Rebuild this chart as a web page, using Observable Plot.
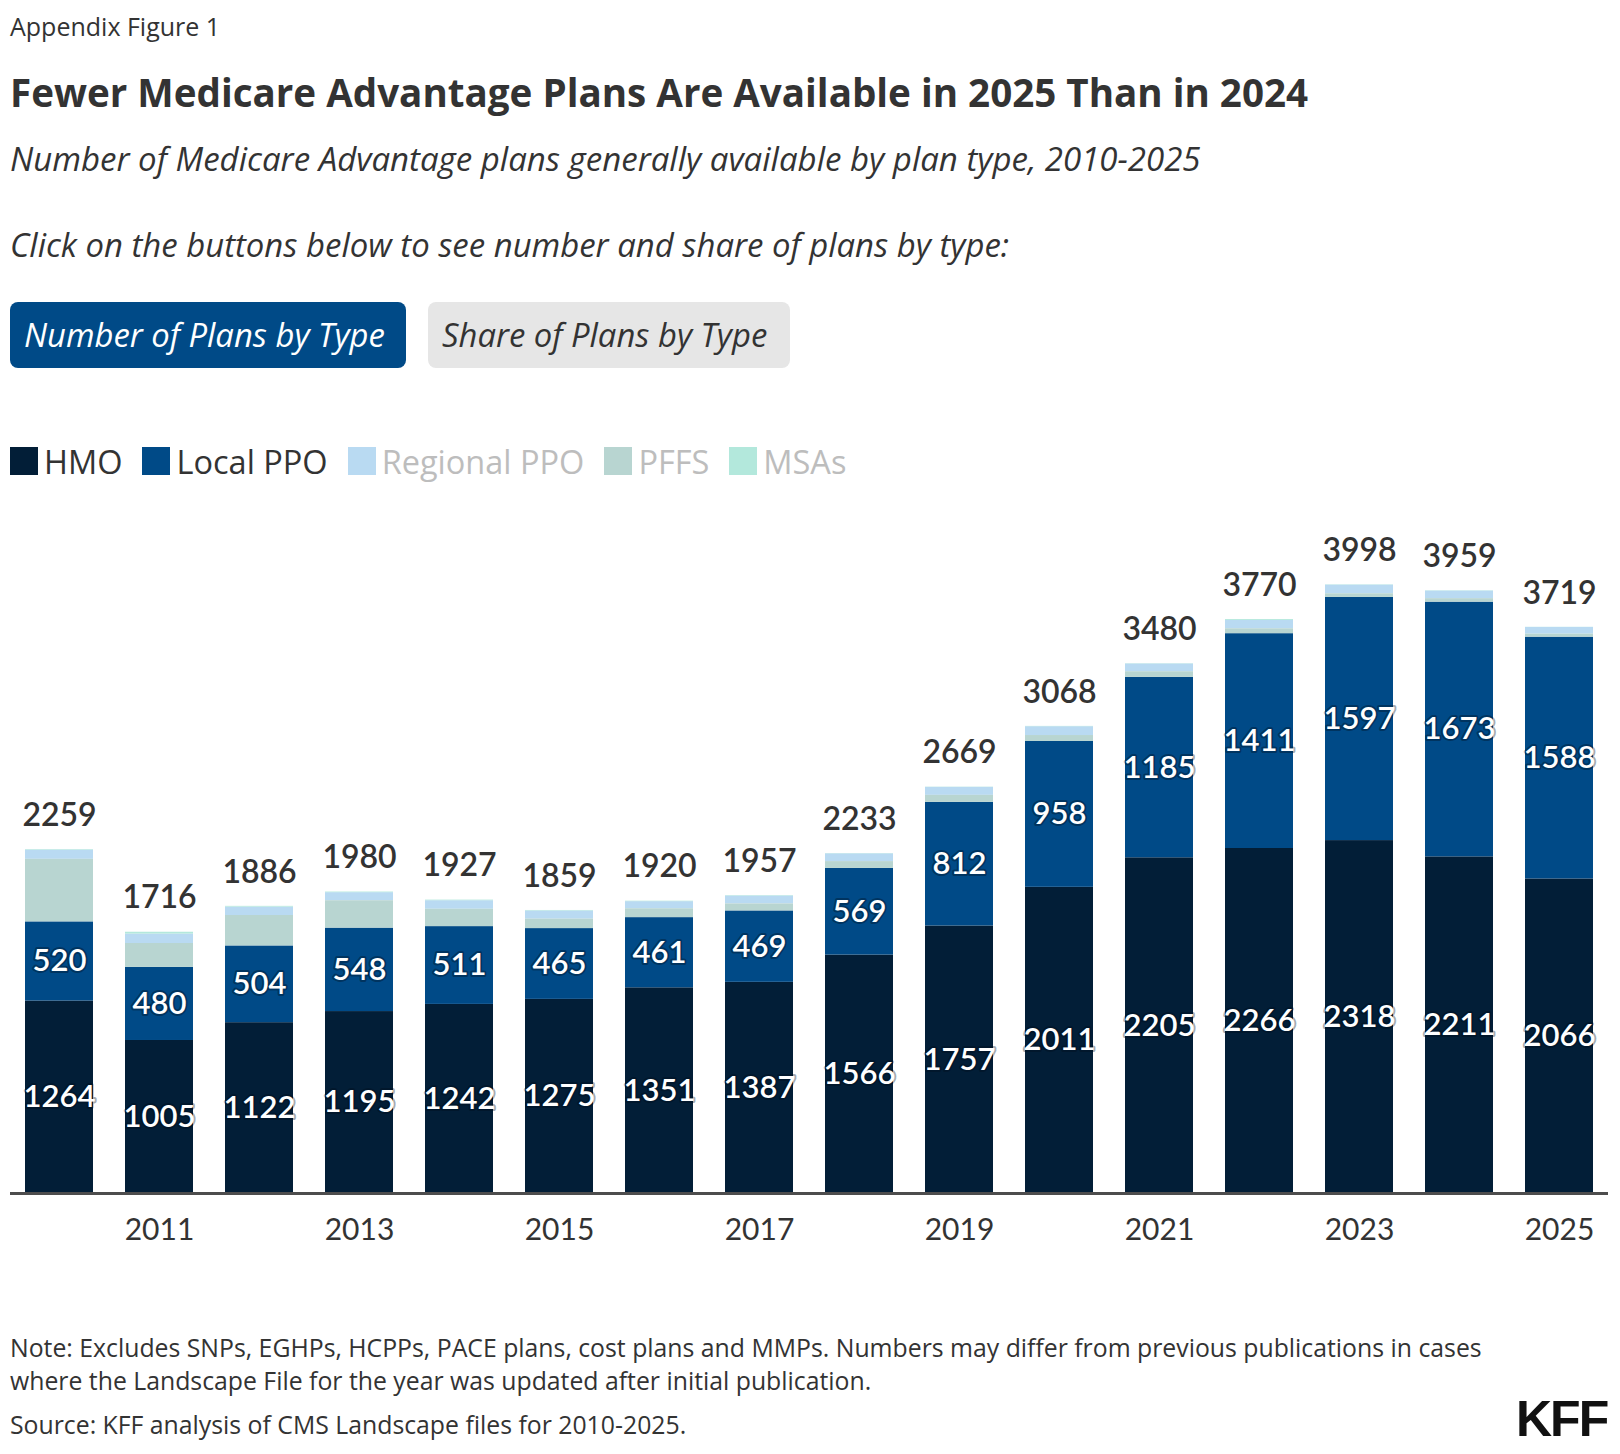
<!DOCTYPE html>
<html>
<head>
<meta charset="utf-8">
<script src="https://cdn.jsdelivr.net/npm/d3@7"></script>
<script src="https://cdn.jsdelivr.net/npm/@observablehq/plot@0.6"></script>
<style>
  html, body { margin: 0; padding: 0; background: #fff; }
  body { width: 1620px; height: 1454px; position: relative; font-family: "Open Sans", Lato, sans-serif; color: #333; overflow: hidden; }
  .abs { position: absolute; left: 10px; white-space: nowrap; }
  #kicker { top: 11px; font-size: 25px; line-height: 30px; color: #333; }
  #title { top: 68px; font-size: 38.6px; line-height: 48px; font-weight: 700; color: #333; }
  #subtitle { top: 140px; font-size: 33px; line-height: 38px; font-style: italic; color: #333; }
  #click { top: 226px; font-size: 32.9px; line-height: 38px; font-style: italic; color: #333; }
  .btn { position: absolute; top: 302px; height: 66px; line-height: 66px; border-radius: 8px; font-size: 32.8px; font-style: italic; box-sizing: border-box; padding-left: 14px; white-space: nowrap; }
  #btn1 { left: 10px; width: 396px; background: #004a87; color: #fff; }
  #btn2 { left: 428px; width: 362px; background: #e6e6e6; color: #333; }
  #legend { position: absolute; top: 440px; left: 10px; height: 42px; display: flex; align-items: center; font-size: 32.5px; font-family: "Open Sans", sans-serif; }
  .li { display: flex; align-items: center; margin-right: 20px; }
  .sw { width: 28px; height: 28px; margin-right: 6px; }
  #chart { position: absolute; top: 490px; left: 0; }
  .note { position: absolute; left: 10px; font-size: 24.8px; line-height: 33px; color: #333; white-space: nowrap; }
  #note { top: 1331px; }
  #source { top: 1408px; }
  #logo { position: absolute; left: 1516px; top: 1392px; font-size: 50px; line-height: 54px; font-weight: 900; color: #111; font-family: "Liberation Sans", Arial, sans-serif; transform: scaleX(1.0); transform-origin: left center; letter-spacing: -2px; }
</style>
</head>
<body>
<div id="kicker" class="abs">Appendix Figure 1</div>
<div id="title" class="abs">Fewer Medicare Advantage Plans Are Available in 2025 Than in 2024</div>
<div id="subtitle" class="abs">Number of Medicare Advantage plans generally available by plan type, 2010-2025</div>
<div id="click" class="abs">Click on the buttons below to see number and share of plans by type:</div>
<div id="btn1" class="btn">Number of Plans by Type</div>
<div id="btn2" class="btn">Share of Plans by Type</div>
<div id="legend"></div>
<div id="chart"></div>
<div id="note" class="note">Note: Excludes SNPs, EGHPs, HCPPs, PACE plans, cost plans and MMPs. Numbers may differ from previous publications in cases<br>where the Landscape File for the year was updated after initial publication.</div>
<div id="source" class="note">Source: KFF analysis of CMS Landscape files for 2010-2025.</div>
<div id="logo">KFF</div>
<script>
const years = [2010, 2011, 2012, 2013, 2014, 2015, 2016, 2017, 2018, 2019, 2020, 2021, 2022, 2023, 2024, 2025];
const planTypes = ["HMO", "Local PPO", "Regional PPO", "PFFS", "MSAs"];
const stackOrder = ["HMO", "Local PPO", "PFFS", "Regional PPO", "MSAs"];
const hmo         = [1264, 1005, 1122, 1195, 1242, 1275, 1351, 1387, 1566, 1757, 2011, 2205, 2266, 2318, 2211, 2066];
const localPPO    = [520, 480, 504, 548, 511, 465, 461, 469, 569, 812, 958, 1185, 1411, 1597, 1673, 1588];
const regionalPPO = [60, 62, 55, 53, 56, 54, 47, 52, 51, 52, 58, 51, 55, 57, 50, 44];
const pffs        = [411, 157, 200, 180, 114, 62, 58, 46, 45, 46, 39, 37, 32, 24, 23, 20];
const msas        = [4, 12, 5, 4, 4, 3, 3, 3, 2, 2, 2, 2, 6, 2, 2, 1];
const totals      = [2259, 1716, 1886, 1980, 1927, 1859, 1920, 1957, 2233, 2669, 3068, 3480, 3770, 3998, 3959, 3719];
const tickYears   = [2011, 2013, 2015, 2017, 2019, 2021, 2023, 2025];
const typeColors  = ["#021e37", "#004a87", "#b9daf2", "#b8d5d1", "#b3e8dc"];
const legendText  = ["#333333", "#333333", "#bdbdbd", "#bdbdbd", "#bdbdbd"];
const labeledTypes = ["HMO", "Local PPO"];

const series = [hmo, localPPO, regionalPPO, pffs, msas];
const rows = [];
years.forEach((yr, i) => {
  planTypes.forEach((t, k) => rows.push({year: yr, type: t, value: series[k][i]}));
});
const totalRows = years.map((yr, i) => ({year: yr, total: totals[i]}));

// legend
const leg = document.getElementById("legend");
planTypes.forEach((t, k) => {
  const item = document.createElement("div");
  item.className = "li";
  item.innerHTML = `<div class="sw" style="background:${typeColors[k]}"></div><span style="color:${legendText[k]}">${t}</span>`;
  leg.appendChild(item);
});

const chart = Plot.plot({
  width: 1620,
  height: 770,
  marginTop: 94,
  marginBottom: 67,
  marginLeft: 10,
  marginRight: 12,
  style: {fontFamily: "Lato, 'Noto Sans', sans-serif", color: "#333", background: "transparent"},
  x: {type: "band", domain: years, paddingInner: 0.32, paddingOuter: 0.13, label: null},
  y: {domain: [0, 4000], axis: null},
  color: {domain: planTypes, range: typeColors},
  marks: [
    Plot.barY(rows, {x: "year", y: "value", fill: "type", order: stackOrder}),
    Plot.text(rows, Plot.stackY({
      x: "year", y: "value", z: "type", order: stackOrder,
      text: d => labeledTypes.includes(d.type) ? String(d.value) : null,
      fill: "white", fontSize: 31, fontWeight: 600,
      stroke: "#000c18", strokeOpacity: 0.35, strokeWidth: 4
    })),
    Plot.text(totalRows, {x: "year", y: "total", text: d => String(d.total), dy: -34, fontSize: 32, fontWeight: 600, fill: "#333"}),
    Plot.ruleY([0], {stroke: "#4d4d4d", strokeWidth: 3}),
    Plot.axisX({ticks: tickYears, tickSize: 0, tickPadding: 25, fontSize: 30, tickFormat: d => String(d), label: null, fill: "#333"})
  ]
});
document.getElementById("chart").appendChild(chart);
</script>
</body>
</html>
